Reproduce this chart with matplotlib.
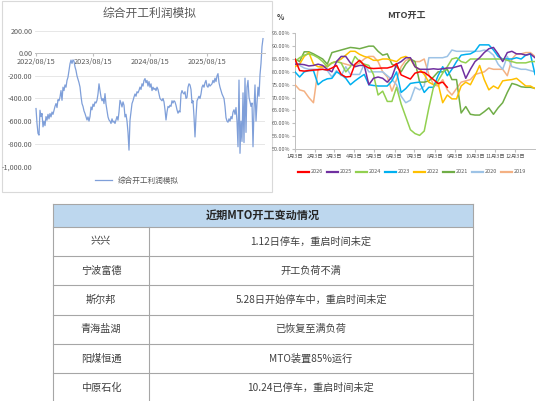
import numpy as np
import matplotlib.pyplot as plt
from matplotlib.patches import Rectangle
from matplotlib.lines import Line2D

plt.rcParams['font.family'] = ['Noto Sans CJK SC', 'DejaVu Sans']

# 综合开工利润模拟（自 2022/08/15 起）
profit = [
    -489, -620, -709, -724, -504, -560, -533, -651, -600, -640,
    -560, -592, -540, -580, -533, -563, -520, -540, -504, -470,
    -445, -480, -410, -420, -387, -330, -416, -300, -330, -280,
    -300, -240, -211, -150, -93, -60, -90, -58, -70, -120,
    -152, -200, -230, -260, -299, -380, -445, -470, -510, -533,
    -560, -590, -563, -600, -560, -475, -500, -450, -470, -430,
    -440, -416, -360, -270, -330, -387, -420, -400, -445, -357,
    -450, -504, -563, -590, -600, -621, -580, -610, -600, -621,
    -590, -560, -592, -520, -416, -440, -475, -430, -460, -563,
    -540, -600, -700, -857, -592, -520, -445, -420, -387, -360,
    -380, -340, -350, -328, -299, -320, -270, -290, -240, -224,
    -260, -240, -290, -250, -300, -270, -330, -300, -320, -310,
    -330, -300, -320, -360, -400, -410, -420, -400, -430, -500,
    -590, -520, -470, -480, -460, -470, -420, -440, -420, -430,
    -460, -500, -530, -510, -520, -360, -330, -350, -360, -340,
    -400, -390, -300, -270, -280, -320, -440, -420, -560, -740,
    -560, -420, -400, -380, -400, -360, -300, -280, -300, -260,
    -240, -290, -300, -270, -290, -280, -270, -240, -260, -220,
    -250, -200, -180, -260, -300, -330, -360, -380, -400, -470,
    -570, -600, -610, -580, -600, -560, -580, -520, -500, -540,
    -480, -600, -827, -237, -885, -600, -780, -350, -790, -220,
    -700, -300, -240, -390, -430, -470, -440, -827, -500, -280,
    -600, -440, -300, -380, -190, -90, 60, 130,
]
profit_labels = ['2022/08/15', '2023/08/15', '2024/08/15', '2025/08/15']
label_step = 57

# MTO开工（周度，%）
days = np.arange(3, 368, 7)
month_days = [3, 34, 62, 93, 123, 154, 184, 215, 246, 276, 307, 337]
month_labels = ['1月3日', '2月3日', '3月3日', '4月3日', '5月3日', '6月3日',
                '7月3日', '8月3日', '9月3日', '10月3日', '11月3日', '12月3日']

mto_2026 = [85.0, 80.5, 80.3, 80.5, 80.7, 80.8, 81.0, 80.7, 81.5, 82.5,
            79.0, 78.0, 78.2, 83.0, 84.5, 82.5, 81.5, 81.3, 81.4, 81.5,
            81.5, 82.0, 83.2, 78.8, 78.0, 77.2, 79.5, 80.0, 79.8, 78.5,
            77.0, 75.5, 76.0, 74.0]
mto_2025 = [83.0, 83.0, 82.8, 82.3, 82.5, 83.0, 82.5, 81.0, 80.0, 84.0,
            86.0, 86.0, 83.5, 82.0, 82.5, 82.5, 75.0, 77.5, 78.0, 77.5,
            76.0, 78.0, 83.0, 84.0, 85.5, 85.5, 82.0, 81.0, 81.0, 81.0,
            81.2, 81.0, 81.2, 81.5, 81.5, 82.0, 82.5, 77.5, 81.0, 84.0,
            85.5, 87.5, 89.0, 89.5, 87.0, 84.0, 87.5, 88.0, 87.0, 87.0,
            86.5, 87.0, 85.5]
mto_2024 = [84.0, 85.5, 86.5, 87.0, 86.5, 85.5, 84.0, 82.0, 83.5, 84.0,
            83.5, 80.0, 82.0, 86.0, 84.0, 83.0, 82.5, 79.0, 71.0, 72.5,
            68.5, 68.5, 74.0, 67.5, 62.5, 57.5, 56.0, 55.3, 57.0, 66.0,
            74.0, 76.5, 79.5, 82.0, 85.0, 85.5, 84.0, 83.5, 85.0, 85.0,
            85.0, 85.0, 85.0, 85.0, 85.0, 85.0, 84.5, 84.0, 83.5, 83.5,
            83.5, 84.0, 84.0]
mto_2023 = [80.0, 78.0, 80.0, 80.5, 80.5, 75.0, 76.5, 77.3, 77.5, 80.0,
            79.0, 77.5, 75.0, 76.5, 77.8, 79.0, 75.0, 74.7, 74.5, 74.5,
            74.5, 76.5, 80.0, 72.0, 73.5, 75.5, 75.8, 76.0, 72.0, 74.0,
            74.0, 78.5, 82.0, 78.5, 81.0, 84.0, 86.5, 86.8, 87.0, 88.0,
            90.5, 90.5, 90.5, 88.5, 86.0, 85.0, 85.0, 85.0, 85.5, 85.0,
            86.5, 87.0, 79.0]
mto_2022 = [82.0, 83.0, 86.0, 87.5, 83.0, 82.0, 82.0, 82.0, 83.5, 84.0,
            85.0, 86.5, 88.0, 88.0, 86.8, 86.0, 85.5, 84.5, 84.5, 85.0,
            85.0, 84.5, 84.0, 85.5, 86.0, 85.0, 82.0, 81.0, 79.0, 76.0,
            75.0, 75.5, 68.0, 71.0, 69.5, 69.5, 74.5, 76.0, 75.0, 78.5,
            82.5, 77.0, 73.0, 74.5, 73.5, 76.5, 76.8, 77.0, 77.5, 76.0,
            74.5, 74.5, 73.5]
mto_2021 = [85.0, 84.0, 87.8, 87.8, 87.0, 86.0, 85.0, 83.0, 87.5, 88.0,
            88.5, 89.0, 89.5, 89.3, 89.0, 89.5, 90.0, 90.0, 88.0, 86.5,
            87.0, 83.0, 82.0, 80.0, 83.0, 85.0, 84.0, 76.0, 76.0, 76.5,
            78.0, 80.0, 80.0, 81.0, 77.0, 77.0, 64.0, 66.5, 63.5, 63.2,
            63.2, 64.5, 66.0, 63.5, 66.0, 68.0, 72.0, 75.5, 75.0, 74.2,
            74.0, 74.0, 73.6]
mto_2020 = [84.0, 82.5, 81.5, 81.0, 81.0, 81.0, 81.0, 80.5, 78.0, 80.5,
            78.5, 82.0, 79.0, 79.0, 79.0, 83.0, 80.0, 80.0, 80.0, 80.0,
            78.5, 77.0, 75.0, 70.5, 68.0, 69.0, 74.0, 73.0, 74.5, 85.5,
            85.5, 85.5, 85.5, 86.0, 88.5, 88.0, 88.0, 88.0, 88.0, 88.0,
            88.0, 88.5, 88.0, 86.5, 83.0, 81.0, 86.0, 82.0, 81.5, 81.0,
            81.0, 80.5, 80.0]
mto_2019 = [75.0, 73.0, 72.5, 70.0, 68.0, 81.0, 82.0, 82.5, 83.5, 84.0,
            83.5, 83.0, 82.5, 82.5, 83.5, 85.0, 86.0, 86.0, 84.0, 80.0,
            78.0, 72.5, 77.0, 82.0, 84.5, 85.0, 84.0, 84.0, 85.0, 79.0,
            75.0, 74.5, 77.0, 73.0, 71.0, 73.5, 76.0, 76.5, 77.0, 79.0,
            79.5, 80.0, 81.5, 81.0, 81.0, 81.0, 78.5, 85.0, 87.0, 87.0,
            87.5, 87.5, 86.0]

years = ['2026', '2025', '2024', '2023', '2022', '2021', '2020', '2019']
series = [mto_2026, mto_2025, mto_2024, mto_2023, mto_2022, mto_2021, mto_2020, mto_2019]
colors = ['#FF0000', '#7030A0', '#92D050', '#00B0F0', '#FFC000', '#70AD47', '#9DC3E6', '#F4B183']

# 近期MTO开工变动情况
table_title = '近期MTO开工变动情况'
companies = ['兴兴', '宁波富德', '斯尔邦', '青海盐湖', '阳煤恒通', '中原石化']
statuses = ['1.12日停车，重启时间未定', '开工负荷不满', '5.28日开始停车中，重启时间未定',
            '已恢复至满负荷', 'MTO装置85%运行', '10.24已停车，重启时间未定']

grey = '#595959'
W, H = 550, 401
fig = plt.figure(figsize=(W / 100, H / 100), dpi=100)

# 背景层：左图边框 + 表格（像素坐标）
bg = fig.add_axes([0, 0, 1, 1], zorder=-1)
bg.set_xlim(0, W)
bg.set_ylim(H, 0)
bg.axis('off')
bg.add_patch(Rectangle((1.5, 1.0), 270, 191, fill=False, ec='#D9D9D9', lw=0.8))

tl, tm, tr = 53, 149, 473
top, head_b, row_h = 204, 227, 29.2
bg.add_patch(Rectangle((tl, top), tr - tl, head_b - top, fc='#BDD7EE', ec='none'))
bg.text((tl + tr) / 2, (top + head_b) / 2, table_title, ha='center', va='center',
        fontsize=8, fontweight='bold', color='#262626')
edge = '#A6A6A6'
bg.plot([tl, tr], [top, top], color=edge, lw=0.8)
bg.plot([tl, tr], [head_b, head_b], color=edge, lw=0.8)
for i, (c, s) in enumerate(zip(companies, statuses)):
    y0 = head_b + i * row_h
    y1 = y0 + row_h
    bg.plot([tl, tr], [y1, y1], color=edge, lw=0.8)
    bg.text((tl + tm) / 2, (y0 + y1) / 2, c, ha='center', va='center', fontsize=7.3, color='#404040')
    bg.text((tm + tr) / 2, (y0 + y1) / 2, s, ha='center', va='center', fontsize=7.3, color='#404040')
bottom = head_b + len(companies) * row_h
bg.plot([tl, tl], [top, bottom], color=edge, lw=0.8)
bg.plot([tr, tr], [top, bottom], color=edge, lw=0.8)
bg.plot([tm, tm], [head_b, bottom], color=edge, lw=0.8)

# 左图
ax1 = fig.add_axes([35 / W, 1 - 166.3 / H, 230 / W, (166.3 - 30.7) / H])
x = np.arange(len(profit))
ax1.plot(x, profit, color='#7F9FD9', lw=0.9, label='综合开工利润模拟')
ax1.set_xlim(-1, 229)
ax1.set_ylim(-1000, 200)
ax1.set_yticks(np.arange(-1000, 201, 200))
ax1.set_yticklabels([f'{v:,.2f}' for v in np.arange(-1000, 201, 200)])
ax1.set_xticks(np.arange(len(profit_labels)) * label_step)
ax1.set_xticklabels(profit_labels)
ax1.grid(axis='y', color='#E3E3E3', lw=0.6)
ax1.set_axisbelow(True)
for s in ['top', 'right', 'left']:
    ax1.spines[s].set_visible(False)
ax1.spines['bottom'].set_position(('data', 0))
ax1.spines['bottom'].set_color('#BFBFBF')
ax1.spines['bottom'].set_linewidth(0.7)
ax1.tick_params(axis='y', length=0, labelsize=5.2, labelcolor=grey, pad=2)
ax1.tick_params(axis='x', length=2, color='#BFBFBF', labelsize=5.3, labelcolor=grey, pad=1.5)
ax1.set_title('综合开工利润模拟', fontsize=8.5, color=grey, pad=10)
fig.legend(*ax1.get_legend_handles_labels(), loc='center', bbox_to_anchor=(137 / W, 1 - 181 / H),
           frameon=False, fontsize=5.5, handlelength=2.2, labelcolor=grey)

# 右图
ax2 = fig.add_axes([295 / W, 1 - 149 / H, 240 / W, (149 - 33.3) / H])
for k in range(len(years) - 1, -1, -1):
    vals = series[k]
    ax2.plot(days[:len(vals)], vals, color=colors[k], lw=1.1, zorder=10 - k)
ax2.set_xlim(3, 367)
ax2.set_ylim(50, 95)
ax2.set_yticks(np.arange(50, 96, 5))
ax2.set_yticklabels([f'{v:.2f}%' for v in np.arange(50, 96, 5)])
ax2.set_xticks(month_days)
ax2.set_xticklabels(month_labels)
for s in ['top', 'right']:
    ax2.spines[s].set_visible(False)
for s in ['left', 'bottom']:
    ax2.spines[s].set_color('#BFBFBF')
    ax2.spines[s].set_linewidth(0.7)
ax2.tick_params(length=2, color='#BFBFBF', labelsize=3.9, labelcolor=grey, pad=1.5)
fig.text(406 / W, 1 - 15 / H, 'MTO开工', ha='center', va='center', fontsize=6.5,
         fontweight='bold', color='#404040')
fig.text(280 / W, 1 - 17 / H, '%', ha='center', va='center', fontsize=5.5,
         fontweight='bold', color='#404040')
handles = [Line2D([], [], color=c, lw=1.6) for c in colors]
fig.legend(handles, years, loc='center', bbox_to_anchor=(412 / W, 1 - 172 / H), ncol=8,
           frameon=False, fontsize=4, handlelength=1.9, handletextpad=0.3,
           columnspacing=0.8, labelcolor=grey)

fig.savefig('out.png', dpi=100)
